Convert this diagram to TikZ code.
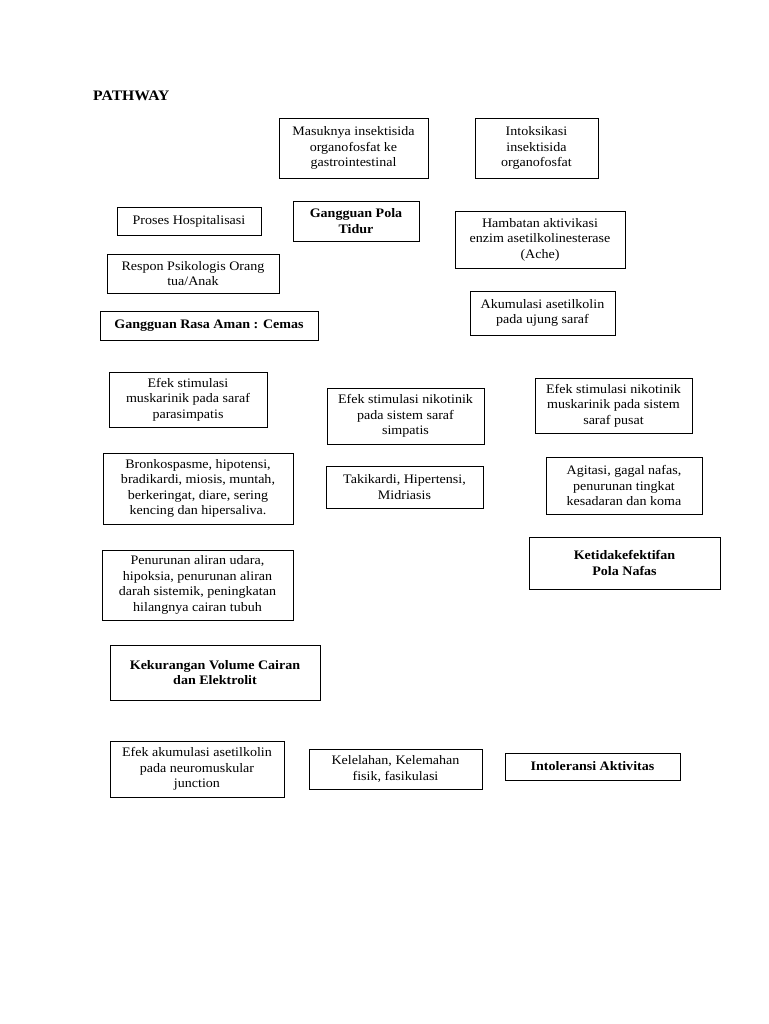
\documentclass[tikz,border=0pt]{standalone}
\usepackage{fontspec}
\setmainfont{Liberation Serif}[FakeStretch=1.08]
\begin{document}
\begin{tikzpicture}[x=1pt,y=-1pt,
        kotak/.style={draw,line width=0.8pt,align=center,inner sep=1pt,
                      font=\fontsize{13}{15.5}\selectfont},
        tebal/.style={kotak,font=\fontsize{13}{15.5}\selectfont\bfseries}]
            \useasboundingbox[fill=white](0,0) rectangle (768,1024);
            \node[anchor=west,inner sep=0pt,font=\fontsize{14.5}{15}\selectfont\bfseries] (judul) at (93,96) {PATHWAY};
            \node[kotak,minimum width=149pt,minimum height=60pt] (masuk) at (353.5,148)
                {Masuknya insektisida\\organofosfat ke\\gastrointestinal};
            \node[kotak,minimum width=123pt,minimum height=60pt] (intoksikasi) at (536.5,148)
                {Intoksikasi\\insektisida\\organofosfat};
            \node[kotak,minimum width=144pt,minimum height=28pt] (proses) at (189,221)
                {Proses Hospitalisasi};
            \node[tebal,minimum width=126pt,minimum height=40pt] (tidur) at (356,221)
                {Gangguan Pola\\Tidur};
            \node[kotak,minimum width=170pt,minimum height=57pt] (hambatan) at (540,239.5)
                {Hambatan aktivikasi\\enzim asetilkolinesterase\\(Ache)};
            \node[kotak,minimum width=172pt,minimum height=39pt] (respon) at (193,273.5)
                {Respon Psikologis Orang\\tua/Anak};
            \node[kotak,minimum width=145pt,minimum height=44pt] (akumulasi) at (542.5,313)
                {Akumulasi asetilkolin\\pada ujung saraf};
            \node[tebal,minimum width=218pt,minimum height=29pt] (cemas) at (209,325.5)
                {Gangguan Rasa Aman : Cemas};
            \node[kotak,minimum width=158pt,minimum height=55pt] (parasimpatis) at (188,399.5)
                {Efek stimulasi\\muskarinik pada saraf\\parasimpatis};
            \node[kotak,minimum width=157pt,minimum height=56pt] (simpatis) at (405.5,416)
                {Efek stimulasi nikotinik\\pada sistem saraf\\simpatis};
            \node[kotak,minimum width=157pt,minimum height=55pt] (pusat) at (613.5,405.5)
                {Efek stimulasi nikotinik\\muskarinik pada sistem\\saraf pusat};
            \node[kotak,minimum width=190pt,minimum height=71pt] (bronko) at (198,488.5)
                {Bronkospasme, hipotensi,\\bradikardi, miosis, muntah,\\berkeringat, diare, sering\\kencing dan hipersaliva.};
            \node[kotak,minimum width=157pt,minimum height=42pt] (takikardi) at (404.5,487)
                {Takikardi, Hipertensi,\\Midriasis};
            \node[kotak,minimum width=156pt,minimum height=57pt] (agitasi) at (624,485.5)
                {Agitasi, gagal nafas,\\penurunan tingkat\\kesadaran dan koma};
            \node[kotak,minimum width=191pt,minimum height=70pt] (aliran) at (197.5,585)
                {Penurunan aliran udara,\\hipoksia, penurunan aliran\\darah sistemik, peningkatan\\hilangnya cairan tubuh};
            \node[tebal,minimum width=191pt,minimum height=52pt] (nafas) at (624.5,563)
                {Ketidakefektifan\\Pola Nafas};
            \node[tebal,minimum width=210pt,minimum height=55pt] (cairan) at (215,672.5)
                {Kekurangan Volume Cairan\\dan Elektrolit};
            \node[kotak,minimum width=174pt,minimum height=56pt] (junction) at (197,769)
                {Efek akumulasi asetilkolin\\pada neuromuskular\\junction};
            \node[kotak,minimum width=173pt,minimum height=40pt] (kelelahan) at (395.5,769)
                {Kelelahan, Kelemahan\\fisik, fasikulasi};
            \node[tebal,minimum width=175pt,minimum height=27pt] (intoleransi) at (592.5,766.5)
                {Intoleransi Aktivitas};
        \end{tikzpicture}
\end{document}
